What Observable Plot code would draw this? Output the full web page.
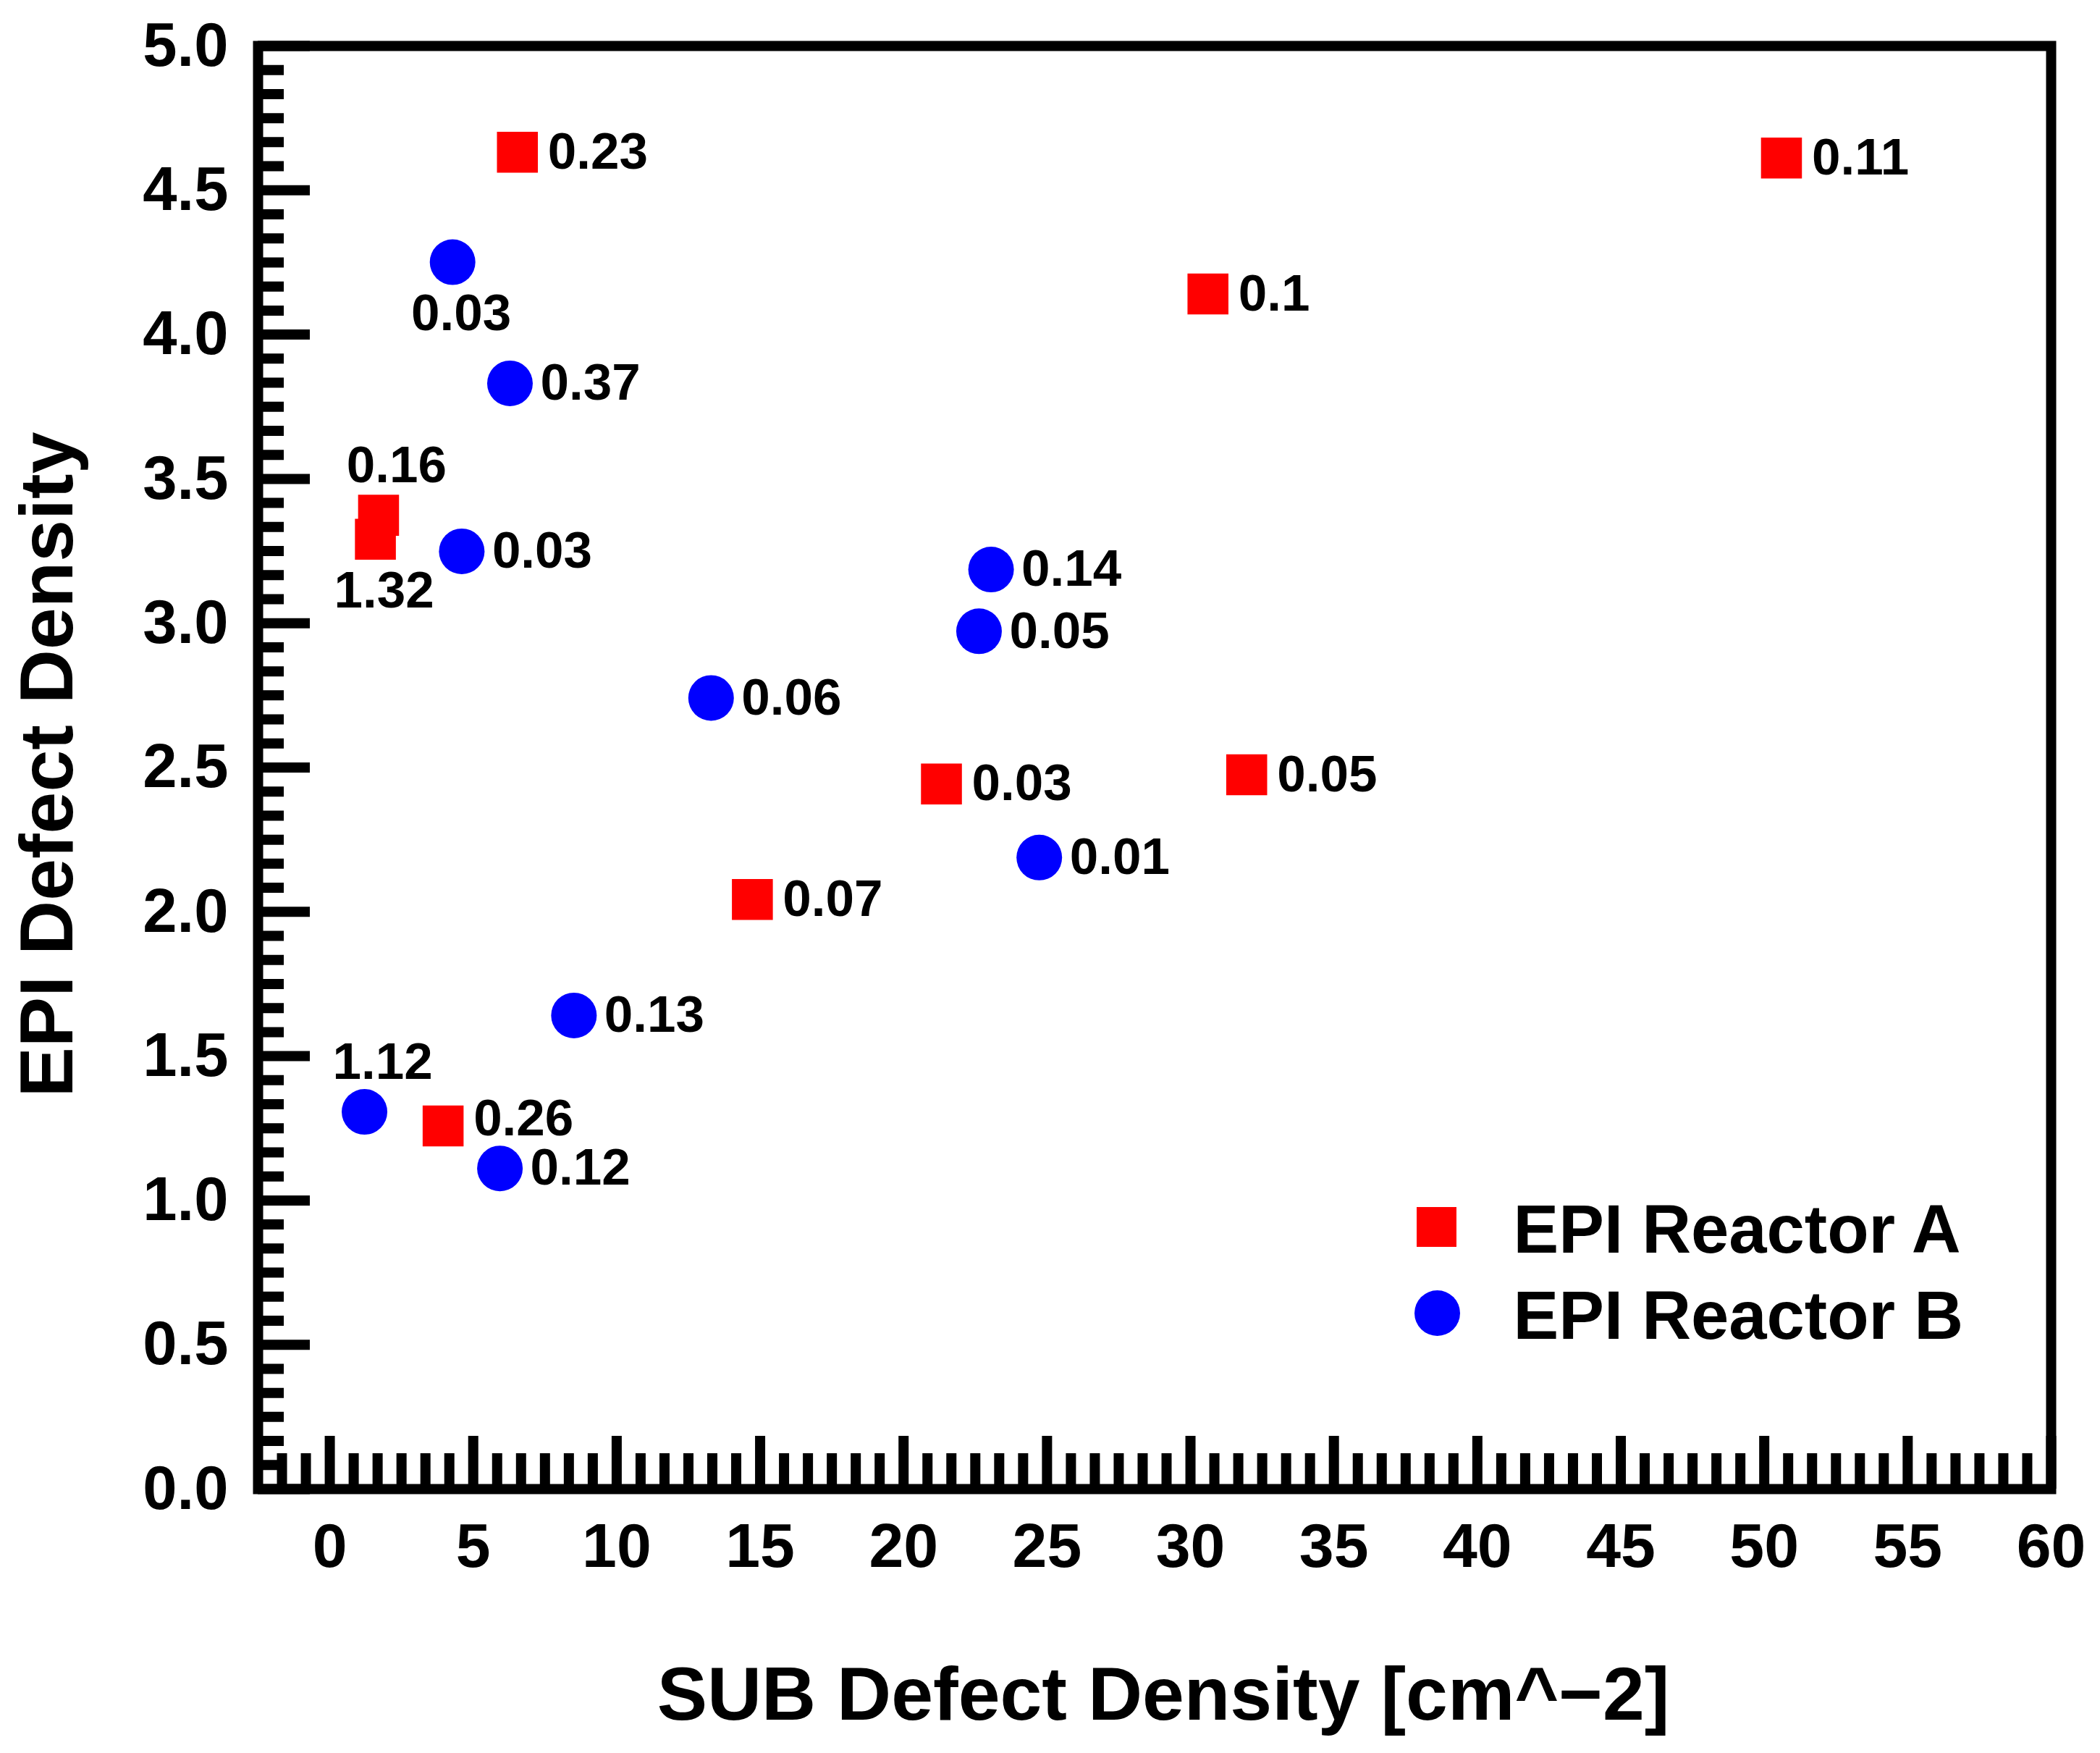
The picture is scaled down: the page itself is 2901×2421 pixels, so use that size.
<!DOCTYPE html>
<html>
<head>
<meta charset="utf-8">
<script src="https://cdn.jsdelivr.net/npm/d3@7"></script>
<script src="https://cdn.jsdelivr.net/npm/@observablehq/plot@0.6"></script>
<style>
  html, body { margin: 0; padding: 0; background: white; }
</style>
</head>
<body>
<div id="chart"></div>
<script>
// ---- Data ----
const seriesNames = ["EPI Reactor A", "EPI Reactor B"];

const reactorAx = [6.54, 50.6, 30.61, 1.70, 1.59, 21.32, 31.96, 14.73, 3.95];
const reactorAy = [4.632, 4.612, 4.141, 3.374, 3.291, 2.443, 2.475, 2.043, 1.258];
const reactorALabels = ["0.23", "0.11", "0.1", "0.16", "1.32", "0.03", "0.05", "0.07", "0.26"];
const reactorAPlacement = ["right", "right", "right", "above", "below", "right", "right", "right", "rightUp"];

const reactorBx = [4.28, 6.28, 4.60, 23.05, 22.63, 13.29, 24.73, 8.51, 1.21, 5.93];
const reactorBy = [4.251, 3.831, 3.249, 3.186, 2.972, 2.741, 2.188, 1.641, 1.307, 1.111];
const reactorBLabels = ["0.03", "0.37", "0.03", "0.14", "0.05", "0.06", "0.01", "0.13", "1.12", "0.12"];
const reactorBPlacement = ["below", "right", "right", "right", "right", "right", "right", "right", "above", "right"];

const xTickValues = [0, 5, 10, 15, 20, 25, 30, 35, 40, 45, 50, 55, 60];
const yTickValues = [0.0, 0.5, 1.0, 1.5, 2.0, 2.5, 3.0, 3.5, 4.0, 4.5, 5.0];
const xTitle = "SUB Defect Density [cm^\u22122]";
const yTitle = "EPI Defect Density";

// ---- Layout ----
const W = 2901, H = 2421;
const mL = 356, mR = 68, mT = 63, mB = 365;
const innerW = W - mL - mR, innerH = H - mT - mB;

const rowsA = reactorAx.map((x, i) => ({x, y: reactorAy[i], label: reactorALabels[i], place: reactorAPlacement[i]}));
const rowsB = reactorBx.map((x, i) => ({x, y: reactorBy[i], label: reactorBLabels[i], place: reactorBPlacement[i]}));
const allRows = rowsA.concat(rowsB);

// minor ticks: 6 subdivisions per major step
const xMinor = d3.range(-2.5, 60.001, 5 / 6).filter(v => Math.abs(v / 5 - Math.round(v / 5)) > 1e-6 && v > -2.49 && v < 59.99);
const yMinor = d3.range(0, 5.0001, 0.5 / 6).filter(v => Math.abs(v / 0.5 - Math.round(v / 0.5)) > 1e-6);

const font = "'Liberation Sans', Arial, Helvetica, sans-serif";

const chart = Plot.plot({
  width: W,
  height: H,
  marginLeft: mL, marginRight: mR, marginTop: mT, marginBottom: mB,
  style: {fontFamily: font, fontWeight: "bold", background: "white", color: "black"},
  x: {domain: [-2.5, 60]},
  y: {domain: [0, 5]},
  marks: [
    // inward ticks
    Plot.tickX(xMinor, {x: d => d, stroke: "black", strokeWidth: 14, insetTop: innerH - 49}),
    Plot.tickX(xTickValues, {x: d => d, stroke: "black", strokeWidth: 14, insetTop: innerH - 73}),
    Plot.tickY(yMinor, {y: d => d, stroke: "black", strokeWidth: 14, insetRight: innerW - 36}),
    Plot.tickY(yTickValues, {y: d => d, stroke: "black", strokeWidth: 14, insetRight: innerW - 72}),
    Plot.frame({stroke: "black", strokeWidth: 14}),
    // tick labels
    Plot.axisX({ticks: xTickValues, tickSize: 0, tickPadding: 46, fontSize: 86, label: null, tickFormat: d => String(d)}),
    Plot.axisY({ticks: yTickValues, tickSize: 0, tickPadding: 41, fontSize: 85, label: null, tickFormat: d => d.toFixed(1)}),
    // points
    Plot.dot(rowsA, {x: "x", y: "y", symbol: "square", r: 31.9, fill: "#ff0000", stroke: "none"}),
    Plot.dot(rowsB, {x: "x", y: "y", symbol: "circle", r: 31.5, fill: "#0000ff", stroke: "none"}),
    // point labels
    Plot.text(allRows.filter(d => d.place === "right"), {x: "x", y: "y", text: "label", textAnchor: "start", lineAnchor: "middle", dx: 42, fontSize: 71, fill: "black"}),
    Plot.text(allRows.filter(d => d.place === "rightUp"), {x: "x", y: "y", text: "label", textAnchor: "start", lineAnchor: "middle", dx: 42, dy: -10, fontSize: 71, fill: "black"}),
    Plot.text(allRows.filter(d => d.place === "above"), {x: "x", y: "y", text: "label", textAnchor: "middle", lineAnchor: "bottom", dx: 25, dy: -46, fontSize: 71, fill: "black"}),
    Plot.text(allRows.filter(d => d.place === "below"), {x: "x", y: "y", text: "label", textAnchor: "middle", lineAnchor: "top", dx: 12, dy: 44, fontSize: 71, fill: "black"}),
    // legend
    Plot.dot([seriesNames[0]], {frameAnchor: "top-left", dx: 1628, dy: 1631, symbol: "square", r: 31, fill: "#ff0000"}),
    Plot.dot([seriesNames[1]], {frameAnchor: "top-left", dx: 1629, dy: 1750, symbol: "circle", r: 31.5, fill: "#0000ff"}),
    Plot.text([seriesNames[0]], {text: d => d, frameAnchor: "top-left", dx: 1734, dy: 1636, textAnchor: "start", lineAnchor: "middle", fontSize: 94, fill: "black"}),
    Plot.text([seriesNames[1]], {text: d => d, frameAnchor: "top-left", dx: 1734, dy: 1755, textAnchor: "start", lineAnchor: "middle", fontSize: 94, fill: "black"}),
    // axis titles
    Plot.text([xTitle], {text: d => d, frameAnchor: "bottom", dx: 12, dy: 318, lineAnchor: "bottom", textAnchor: "middle", fontSize: 104, fill: "black"}),
    Plot.text([yTitle], {text: d => d, frameAnchor: "left", dx: -257, dy: -4, rotate: -90, lineAnchor: "bottom", textAnchor: "middle", fontSize: 104, fill: "black"})
  ]
});

document.getElementById("chart").appendChild(chart);
</script>
</body>
</html>
